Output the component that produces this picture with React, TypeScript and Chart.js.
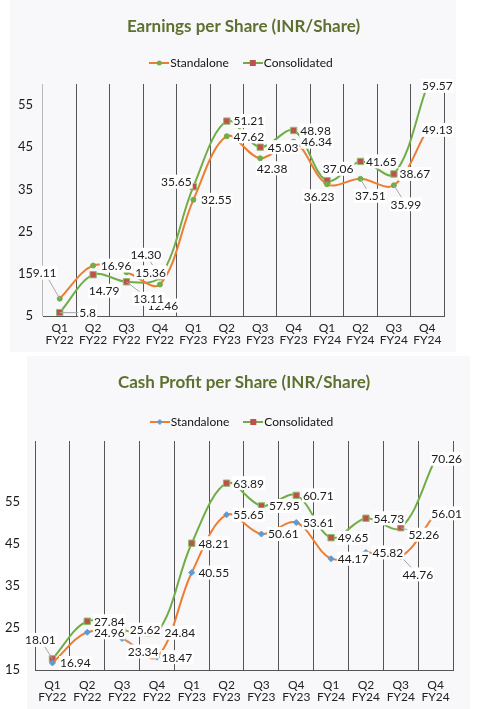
import React, { useEffect, useRef } from 'react';
import { Chart, registerables } from 'chart.js';
Chart.register(...registerables);

// ---------- data ----------
const categories: string[][] = [
  ['Q1', 'FY22'], ['Q2', 'FY22'], ['Q3', 'FY22'], ['Q4', 'FY22'],
  ['Q1', 'FY23'], ['Q2', 'FY23'], ['Q3', 'FY23'], ['Q4', 'FY23'],
  ['Q1', 'FY24'], ['Q2', 'FY24'], ['Q3', 'FY24'], ['Q4', 'FY24'],
];
const seriesNames = ['Standalone', 'Consolidated'];

const epsTitle = 'Earnings per Share (INR/Share)';
const epsStandalone = ['9.11', '16.96', '15.36', '12.46', '32.55', '47.62', '42.38', '46.34', '36.23', '37.51', '35.99', '49.13'];
const epsConsolidated = ['5.8', '14.79', '13.11', '14.30', '35.65', '51.21', '45.03', '48.98', '37.06', '41.65', '38.67', '59.57'];
const epsTicks = [5, 15, 25, 35, 45, 55];

const cpsTitle = 'Cash Profit per Share (INR/Share)';
const cpsStandalone = ['16.94', '24.96', '23.34', '18.47', '40.55', '55.65', '50.61', '53.61', '44.17', '45.82', '44.76', '56.01'];
const cpsConsolidated = ['18.01', '27.84', '25.62', '24.84', '48.21', '63.89', '57.95', '60.71', '49.65', '54.73', '52.26', '70.26'];
const cpsTicks = [15, 25, 35, 45, 55];

// ---------- label placement (style: pixel offsets of each data label, 1 = leader line) ----------
const epsStdLabelPos = [[-15, -26, 1], [23, 0], [24, 0], [3, 21], [23, 0], [22, 0], [12, 10], [23, 0], [-8, 12], [10, 17, 1], [12, 19, 1], [10, 0]];
const epsConLabelPos = [[28, 0, 1], [11, 16], [22, 17, 1], [-14, -22, 1], [-17, -5], [22, 0], [23, 0], [22, 0], [11, -12], [21, 0], [21, 0], [10, 0]];
const cpsStdLabelPos = [[23, 0], [22, 0], [21, 13, 1], [20, 0], [22, 0], [22, 0], [22, 0], [22, 0], [22, 0], [22, 0], [17, 18, 1], [11, 0]];
const cpsConLabelPos = [[-12, -19, 1], [22, 0], [23, 0], [23, 0], [22, 0], [22, 0], [23, 0], [22, 0], [22, 0], [23, 0], [23, 7, 1], [11, 0]];

// ---------- style ----------
const ORANGE = '#ED7D31';
const GREEN = '#70AD47';
const RED = '#C0504D';
const BLUE = '#5B9BD5';
const TITLE_COLOR = '#5d7030';
const FONT = 'Lato';

function legendIcon(lineColor: string, marker: 'dot' | 'square' | 'diamond', fill: string) {
  const c = document.createElement('canvas');
  c.width = 20;
  c.height = 10;
  const g = c.getContext('2d')!;
  g.strokeStyle = lineColor;
  g.lineWidth = 2;
  g.beginPath();
  g.moveTo(0, 5);
  g.lineTo(20, 5);
  g.stroke();
  g.fillStyle = fill;
  if (marker === 'square') {
    g.fillRect(7, 2, 6, 6);
  } else if (marker === 'dot') {
    g.beginPath();
    g.arc(10, 5, 2.5, 0, Math.PI * 2);
    g.fill();
  } else {
    g.beginPath();
    g.moveTo(10, 2);
    g.lineTo(13, 5);
    g.lineTo(10, 8);
    g.lineTo(7, 5);
    g.closePath();
    g.fill();
  }
  return c;
}

const labelPlugin = {
  id: 'pointLabels',
  afterDatasetsDraw(chart: any, _a: any, opts: any) {
    const ctx = chart.ctx;
    const pos = opts.positions as number[][][];
    const texts = opts.texts as string[][];
    ctx.save();
    // leader lines
    ctx.strokeStyle = '#a8a8a8';
    ctx.lineWidth = 1;
    chart.data.datasets.forEach((_d: any, di: number) => {
      const meta = chart.getDatasetMeta(di);
      meta.data.forEach((pt: any, i: number) => {
        const p = pos[di][i];
        if (!p[2]) return;
        ctx.beginPath();
        ctx.moveTo(pt.x, pt.y);
        ctx.lineTo(pt.x + p[0], pt.y + p[1]);
        ctx.stroke();
      });
    });
    ctx.font = `12px ${FONT}`;
    ctx.textAlign = 'center';
    ctx.textBaseline = 'middle';
    for (let di = 0; di < chart.data.datasets.length; di++) {
      const meta = chart.getDatasetMeta(di);
      meta.data.forEach((pt: any, i: number) => {
        const p = pos[di][i];
        const t = texts[di][i];
        const x = pt.x + p[0];
        const y = pt.y + p[1];
        const w = ctx.measureText(t).width + 2;
        ctx.fillStyle = '#ffffff';
        ctx.fillRect(x - w / 2, y - 7, w, 14);
        ctx.fillStyle = '#1a1a1a';
        ctx.fillText(t, x, y + 0.5);
      });
    }
    ctx.restore();
  },
};

type Geo = {
  padRight: number;
  yWidth: number;
  xHeight: number;
  titleTop: number;
  titleBottom: number;
  spacer: number;
  yTickPad: number;
  xTickPad: number;
  firstGrid: string;
};

function buildConfig(
  title: string,
  std: string[],
  con: string[],
  stdMarker: 'dot' | 'diamond',
  stdPos: number[][],
  conPos: number[][],
  scales: any,
  geo: Geo
): any {
  const stdVals = std.map(Number);
  const conVals = con.map(Number);
  const stdColor = stdMarker === 'dot' ? GREEN : BLUE;
  const icons = [legendIcon(ORANGE, stdMarker, stdColor), legendIcon(GREEN, 'square', RED)];
  return {
    type: 'line',
    data: {
      labels: categories,
      datasets: [
        {
          label: seriesNames[0],
          data: stdVals,
          yAxisID: 'y',
          borderColor: ORANGE,
          borderWidth: 2,
          tension: 0.35,
          pointStyle: stdMarker === 'dot' ? 'circle' : 'rectRot',
          pointRadius: stdMarker === 'dot' ? 2.5 : 3,
          pointBackgroundColor: stdColor,
          pointBorderColor: stdColor,
          pointBorderWidth: 1,
        },
        {
          label: seriesNames[1],
          data: conVals,
          yAxisID: 'y',
          borderColor: GREEN,
          borderWidth: 2,
          tension: 0.35,
          pointStyle: 'rect',
          pointRadius: 4.5,
          pointBackgroundColor: RED,
          pointBorderColor: '#8cc06a',
          pointBorderWidth: 1,
        },
      ],
    },
    options: {
      responsive: true,
      maintainAspectRatio: false,
      animation: false,
      layout: { padding: { left: 0, right: geo.padRight, top: 0, bottom: 0 } },
      plugins: {
        title: {
          display: true,
          text: title,
          fullSize: false,
          color: TITLE_COLOR,
          font: { family: FONT, size: 17, weight: 'bold' },
          padding: { top: geo.titleTop, bottom: geo.titleBottom },
        },
        legend: {
          display: true,
          fullSize: false,
          labels: {
            usePointStyle: true,
            pointStyleWidth: 10,
            padding: 19,
            color: '#111111',
            font: { family: FONT, size: 12 },
            generateLabels: () =>
              seriesNames.map((n, i) => ({
                text: n,
                pointStyle: icons[i],
                datasetIndex: i,
                hidden: false,
                lineWidth: 0,
                fillStyle: 'transparent',
                strokeStyle: 'transparent',
                fontColor: '#111111',
              })),
          },
        },
        tooltip: { enabled: false },
        pointLabels: { positions: [stdPos, conPos], texts: [std, con] },
      },
      scales: {
        x: {
          type: 'category',
          offset: true,
          grid: {
            display: true,
            offset: true,
            color: (c: any) => (c.index === 0 ? geo.firstGrid : '#555555'),
            lineWidth: 1,
            drawTicks: false,
          },
          border: { display: true, color: '#555555', width: 1 },
          ticks: {
            padding: geo.xTickPad,
            color: '#222222',
            font: { family: FONT, size: 12, lineHeight: 1 },
            maxRotation: 0,
            autoSkip: false,
          },
          afterFit: (s: any) => {
            s.height = geo.xHeight;
          },
        },
        xTop: {
          type: 'category',
          position: 'top',
          display: true,
          grid: { display: false, drawTicks: false },
          border: { display: false },
          ticks: { display: false },
          afterFit: (s: any) => {
            s.height = geo.spacer;
          },
        },
        ...scales,
      },
    },
    plugins: [labelPlugin],
  };
}

function ChartBox({ make, top, height }: { make: () => any; top: number; height: number }) {
  const ref = useRef<HTMLCanvasElement>(null);
  useEffect(() => {
    const chart = new Chart(ref.current!, make());
    return () => chart.destroy();
  }, []);
  return (
    <div style={{ position: 'absolute', left: 0, top, width: 480, height }}>
      <canvas ref={ref} />
    </div>
  );
}

const epsGeo: Geo = { padRight: 36, yWidth: 43, xHeight: 34, titleTop: 16.8, titleBottom: 0.8, spacer: 5, yTickPad: 10, xTickPad: 6, firstGrid: '#b8b8b8' };
const cpsGeo: Geo = { padRight: 27, yWidth: 35, xHeight: 39, titleTop: 22.8, titleBottom: 3.8, spacer: 3, yTickPad: 15, xTickPad: 9, firstGrid: '#555555' };

const yTickStyle = (pad: number) => ({ padding: pad, color: '#1a1a1a', font: { family: FONT, size: 13 } });

function makeEps() {
  return buildConfig(epsTitle, epsStandalone, epsConsolidated, 'dot', epsStdLabelPos, epsConLabelPos, {
    y: {
      type: 'linear',
      position: 'left',
      min: 5,
      max: 60,
      grid: { display: false, drawTicks: false },
      border: { display: false },
      ticks: yTickStyle(epsGeo.yTickPad),
      afterBuildTicks: (s: any) => {
        s.ticks = epsTicks.map((v) => ({ value: v }));
      },
      afterFit: (s: any) => {
        s.width = epsGeo.yWidth;
      },
    },
  }, epsGeo);
}

function makeCps() {
  return buildConfig(cpsTitle, cpsStandalone, cpsConsolidated, 'diamond', cpsStdLabelPos, cpsConLabelPos, {
    y: {
      type: 'linear',
      position: 'left',
      display: false,
      min: 15.11,
      max: 74.9,
    },
    yLabels: {
      type: 'linear',
      position: 'left',
      min: 15,
      max: 69.52,
      grid: { display: false, drawTicks: false },
      border: { display: false },
      ticks: yTickStyle(cpsGeo.yTickPad),
      afterBuildTicks: (s: any) => {
        s.ticks = cpsTicks.map((v) => ({ value: v }));
      },
      afterFit: (s: any) => {
        s.width = cpsGeo.yWidth;
      },
    },
  }, cpsGeo);
}

export default function App() {
  return (
    <div style={{ position: 'absolute', left: 0, top: 0, width: 480, height: 709, background: '#ffffff', overflow: 'hidden' }}>
      <div style={{ position: 'absolute', left: 10, top: 0, width: 446, height: 352, background: '#f8f8fa' }} />
      <div style={{ position: 'absolute', left: 27, top: 356, width: 443, height: 353, background: '#f8f8fa' }} />
      <ChartBox make={makeEps} top={0} height={350} />
      <ChartBox make={makeCps} top={350} height={359} />
    </div>
  );
}
